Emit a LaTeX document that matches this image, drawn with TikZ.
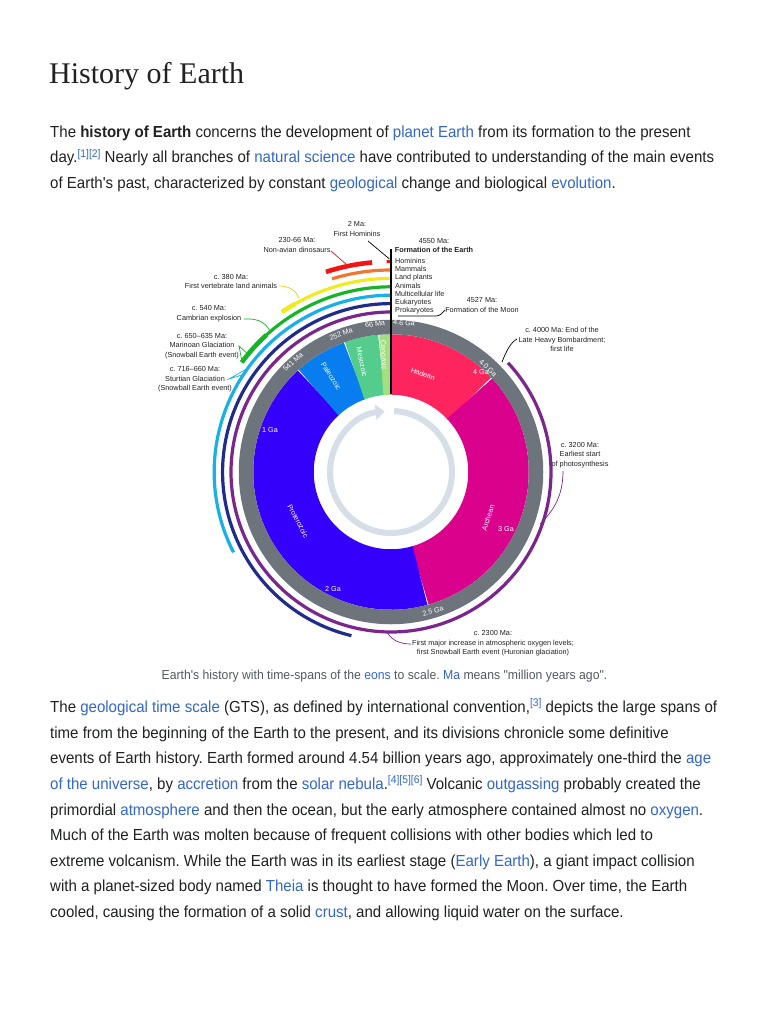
\documentclass[tikz,border=0pt]{standalone}
\usepackage{fontspec}
\setmainfont{Liberation Sans}
\newfontfamily\bodyfont[FakeStretch=0.94,Ligatures=TeXOff]{Liberation Sans}
\newfontfamily\titlefont[Ligatures=TeXOff]{Liberation Serif}
\newfontfamily\dfont[Ligatures=TeXOff]{Liberation Sans}
\usetikzlibrary{arrows.meta}
\frenchspacing
\definecolor{txt}{HTML}{202122}
\definecolor{dtxt}{HTML}{222222}
\definecolor{link}{HTML}{3366CC}
\definecolor{capc}{HTML}{54595D}
\definecolor{hadean}{RGB}{254,37,95}
\definecolor{archean}{RGB}{218,1,140}
\definecolor{prot}{RGB}{52,0,252}
\definecolor{paleo}{RGB}{8,125,240}
\definecolor{meso}{RGB}{84,205,140}
\definecolor{ceno}{RGB}{163,222,128}
\definecolor{ringgray}{RGB}{110,116,124}
\definecolor{arrowc}{RGB}{214,222,232}
\definecolor{lpurple}{RGB}{122,38,140}
\definecolor{lnavy}{RGB}{32,44,140}
\definecolor{lblue}{RGB}{24,176,230}
\definecolor{lgreen}{RGB}{24,180,40}
\definecolor{lyellow}{RGB}{240,235,30}
\definecolor{lorange}{RGB}{238,120,50}
\definecolor{lred}{RGB}{240,20,20}
\newcommand\lk[1]{\textcolor{link}{#1}}
\newcommand\myref[1]{\raisebox{5.5pt}{\fontsize{11}{11}\selectfont\textcolor{link}{#1}}}
\newcommand\ringarc[4]{\draw[#1] ([shift={(#2:#4)}]C) arc[start angle=#2, end angle=#3, radius=#4];}
\begin{document}
\begin{tikzpicture}[x=1pt,y=1pt,
  body/.style={anchor=base west, inner sep=0pt, font=\bodyfont\fontsize{16}{16}\selectfont, text=txt},
  dlab/.style={font=\dfont\fontsize{7.3}{9.6}\selectfont, align=center, inner sep=0pt, text=dtxt},
  leg/.style={font=\dfont\fontsize{7.2}{7.2}\selectfont, anchor=west, inner sep=0pt, text=dtxt},
  rlab/.style={font=\dfont\fontsize{7.2}{7.2}\selectfont, inner sep=0pt, text=white},
  eon/.style={line width=60.5pt},
  life/.style={line width=3.2pt},
  thick life/.style={line width=4.6pt},
  conn/.style={line width=0.7pt},
]
\useasboundingbox[fill=white] (0,0) rectangle (768,-1024);

% ---------- title and first paragraph ----------
\node[anchor=base west, inner sep=0pt, font=\titlefont\fontsize{30}{30}\selectfont, text=txt] (title) at (49,-84) {History of Earth};
\node[body] (p1a) at (50,-137.5) {The \textbf{history of Earth} concerns the development of \lk{planet Earth} from its formation to the present};
\node[body] (p1b) at (50,-163) {day.\myref{[1][2]} Nearly all branches of \lk{natural science} have contributed to understanding of the main events};
\node[body] (p1c) at (50,-188.5) {of Earth's past, characterized by constant \lk{geological} change and biological \lk{evolution}.};

% ---------- the clock ----------
\coordinate (C) at (391,-472);
\foreach \a/\b/\c in {90/43.04/hadean, 43.04/-74.35/archean, -74.35/-227.66/prot, -227.66/-250.28/paleo, -250.28/-264.83/meso, -264.83/-270/ceno}
  {\ringarc{eon,\c}{\a}{\b}{107.5}}
\draw[ringgray, line width=14.5pt] (C) circle[radius=145];

% inner arrow
\draw[arrowc, line width=6pt, -{Triangle[length=9pt,width=15pt]}] ([shift={(87:61)}]C) arc[start angle=87, end angle=-264, radius=61];

% life arcs
\ringarc{life,lpurple}{43.04}{-270}{160}
\ringarc{life,lnavy}{-103.6}{-270}{168.4}
\ringarc{life,lblue}{-153}{-270}{176.8}
\ringarc{life,lgreen}{-216.3}{-270}{185.2}
\ringarc{thick life,lgreen}{-216.3}{-227.7}{185.2}
\ringarc{life,lyellow}{-235.7}{-270}{193.6}
\ringarc{thick life,lyellow}{-235.7}{-240.3}{193.6}
\ringarc{life,lorange}{-253}{-270}{202}
\ringarc{thick life,lred}{-252}{-264.83}{210.4}
\ringarc{life,lred}{-268.8}{-270}{210.4}

% vertical line
\coordinate (vtop) at (391,-249);
\coordinate (vbot) at (391,-394);
\draw[black, line width=1.2pt] (vtop) -- (vbot);

% ring labels
\node[rlab, rotate=-4] (g46) at (404,-323) {4.6 Ga};
\node[rlab, rotate=6] (m66) at (375,-324) {66 Ma};
\node[rlab, rotate=20] (m252) at (341,-334) {252 Ma};
\node[rlab, rotate=42] (m541) at (293,-362) {541 Ma};
\node[rlab, rotate=-45] (g40) at (488,-368) {4.0 Ga};
\node[rlab, rotate=16] (g25) at (433,-611) {2.5 Ga};
\node[rlab] (g4) at (481,-372) {4 Ga};
\node[rlab] (g1) at (270,-430) {1 Ga};
\node[rlab] (g2) at (333,-589) {2 Ga};
\node[rlab] (g3) at (506,-529) {3 Ga};
\node[rlab, rotate=-20] (nhad) at (423,-374) {Hadean};
\node[rlab, rotate=72] (narc) at (488,-518) {Archean};
\node[rlab, rotate=-62] (npro) at (298,-521) {Proterozoic};
\node[rlab, rotate=-58] (npal) at (331,-376) {Paleozoic};
\node[rlab, rotate=-78] (nmes) at (362,-362) {Mesozoic};
\node[rlab, rotate=-87] (ncen) at (384,-355) {Cenozoic};

% left labels
\node[dlab] (lhom) at (357,-229) {2 Ma:\\First Hominins};
\node[dlab] (ldin) at (297,-245) {230-66 Ma:\\Non-avian dinosaurs};
\node[dlab] (lland) at (231,-281.5) {c. 380 Ma:\\First vertebrate land animals};
\node[dlab] (lcam) at (209,-314) {c. 540 Ma:\\Cambrian explosion};
\node[dlab] (lmar) at (202,-346) {c. 650–635 Ma:\\Marinoan Glaciation\\(Snowball Earth event)};
\node[dlab] (lstu) at (195,-379.5) {c. 716–660 Ma:\\Sturtian Glaciation\\(Snowball Earth event)};

% right labels
\node[dlab] (learth) at (434,-245.5) {4550 Ma:\\\textbf{Formation of the Earth}};
\node[leg] (kh) at (395,-260.7) {Hominins};
\node[leg] (km) at (395,-269) {Mammals};
\node[leg] (kl) at (395,-277.3) {Land plants};
\node[leg] (ka) at (395,-285.7) {Animals};
\node[leg] (kmu) at (395,-294) {Multicellular life};
\node[leg] (ke) at (395,-302.7) {Eukaryotes};
\node[leg] (kp) at (395,-310.7) {Prokaryotes};
\node[dlab] (lmoon) at (482,-305) {4527 Ma:\\Formation of the Moon};
\node[dlab] (llhb) at (562,-339.5) {c. 4000 Ma: End of the\\Late Heavy Bombardment;\\first life};
\node[dlab] (lpho) at (580,-455) {c. 3200 Ma:\\Earliest start\\of photosynthesis};
\node[dlab] (loxy) at (493,-643.5) {c. 2300 Ma:\\First major increase in atmospheric oxygen levels;\\first Snowball Earth event (Huronian glaciation)};

% connector end points
\coordinate (hA) at (368,-241);   \coordinate (hB) at (389.5,-259);
\coordinate (dA) at (331,-251);   \coordinate (dB) at (347,-265);
\coordinate (yA) at (279,-286);   \coordinate (yB) at (299,-298);
\coordinate (cA) at (244,-319);   \coordinate (cB) at (271,-333);
\coordinate (mA) at (239,-346);   \coordinate (mB) at (242.1,-361.9); \coordinate (mC) at (248.1,-354.2);
\coordinate (sA) at (229,-379);   \coordinate (sB) at (243.6,-374.4); \coordinate (sC) at (248,-368.1);
\coordinate (oA) at (398,-316);   \coordinate (oM) at (436,-316);   \coordinate (oB) at (445,-310);
\coordinate (bA) at (517,-339);   \coordinate (bB) at (502,-362);
\coordinate (fA) at (563,-471);   \coordinate (fB) at (540,-524);
\coordinate (xA) at (387,-632);   \coordinate (xB) at (411,-644);

\draw[conn, black] (hA) -- (hB);
\draw[conn, lred] (dA) -- (dB);
\draw[conn, lyellow!90!black] (yA) .. controls (290,-286) and (296,-291) .. (yB);
\draw[conn, lgreen] (cA) .. controls (260,-318) and (267,-324) .. (cB);
\draw[conn, lgreen] (mB) -- (mA) -- (mC);
\draw[conn, lblue] (sB) -- (sA) -- (sC);
\draw[conn, black] (oA) -- (oM) .. controls (440,-316) and (442,-313) .. (oB);
\draw[conn, black] (bA) .. controls (510,-343) and (506,-352) .. (bB);
\draw[conn, lpurple] (fA) .. controls (563,-498) and (552,-512) .. (fB);
\draw[conn, lpurple] (xA) .. controls (392,-641) and (401,-644) .. (xB);

% caption
\node[anchor=base, inner sep=0pt, font=\bodyfont\fontsize{13}{13}\selectfont, text=capc] (cap) at (384.5,-679) {Earth's history with time-spans of the \lk{eons} to scale. \lk{Ma} means "million years ago".};

% second paragraph
\node[body] (p2a) at (50,-712) {The \lk{geological time scale} (GTS), as defined by international convention,\myref{[3]} depicts the large spans of};
\node[body] (p2b) at (50,-738) {time from the beginning of the Earth to the present, and its divisions chronicle some definitive};
\node[body] (p2c) at (50,-763.5) {events of Earth history. Earth formed around 4.54 billion years ago, approximately one-third the \lk{age}};
\node[body] (p2d) at (50,-789) {\lk{of the universe}, by \lk{accretion} from the \lk{solar nebula}.\myref{[4][5][6]} Volcanic \lk{outgassing} probably created the};
\node[body] (p2e) at (50,-815) {primordial \lk{atmosphere} and then the ocean, but the early atmosphere contained almost no \lk{oxygen}.};
\node[body] (p2f) at (50,-840.5) {Much of the Earth was molten because of frequent collisions with other bodies which led to};
\node[body] (p2g) at (50,-866) {extreme volcanism. While the Earth was in its earliest stage (\lk{Early Earth}), a giant impact collision};
\node[body] (p2h) at (50,-891.5) {with a planet-sized body named \lk{Theia} is thought to have formed the Moon. Over time, the Earth};
\node[body] (p2i) at (50,-917) {cooled, causing the formation of a solid \lk{crust}, and allowing liquid water on the surface.};
\end{tikzpicture}
\end{document}
